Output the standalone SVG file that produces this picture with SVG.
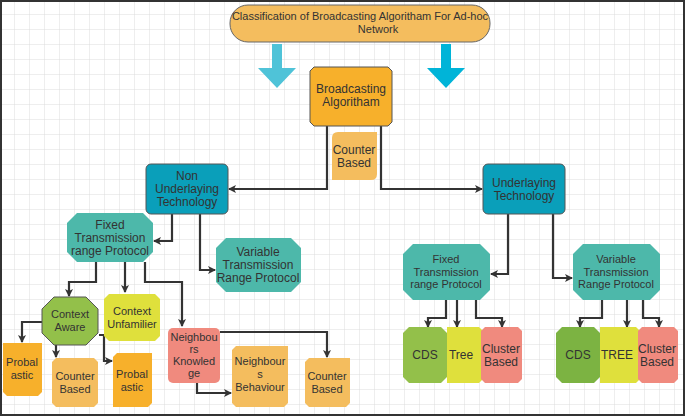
<svg xmlns="http://www.w3.org/2000/svg" width="685" height="416" viewBox="0 0 685 416">
<defs>
<pattern id="g" width="15" height="15" patternUnits="userSpaceOnUse"><path d="M15 0V15H0" fill="none" stroke="#dcdcdc" stroke-width="1"/></pattern>
<marker id="a" markerWidth="8" markerHeight="8" refX="7" refY="4" orient="auto" markerUnits="userSpaceOnUse"><path d="M0,0 L8,4 L0,8 L2,4z" fill="#333"/></marker>
<style>
text{font-family:"Liberation Sans",Arial,sans-serif;font-size:11px;fill:#333;text-anchor:middle}
.c path{fill:none;stroke:#333;stroke-width:2.2;marker-end:url(#a)}
.s{stroke:#555;stroke-width:0.6}
.big{font-size:12px}
</style>
</defs>
<rect width="685" height="416" fill="#fff"/>
<rect width="685" height="416" fill="url(#g)"/>
<rect x="1" y="1" width="683" height="414" fill="none" stroke="#333" stroke-width="2"/>
<g id="title"><rect x="230" y="5" width="260" height="37" rx="18" fill="#f4bd5e" stroke="#666"/><text x="360" y="20">Classification of Broadcasting Algoritham For Ad-hoc</text><text x="378" y="33">Network</text></g>
<g id="bluearrows"><path d="M272 44h10v24h14l-19 20l-19-20h14z" fill="#4fc3d8"/><path d="M441 44h10v24h14l-19 20l-19-20h14z" fill="#00b4d8"/></g>
<g class="c" id="connectors">
<path d="M327 126V189H229"/><path d="M381 126V189H482"/>
<path d="M172 214V241H154"/><path d="M200 214V270H215"/>
<path d="M96 262V282H69V296"/><path d="M125 262V292"/><path d="M145 262V282H182V326"/>
<path d="M42 322H22V342"/><path d="M56 345V357"/><path d="M99 335H104V361H112"/>
<path d="M197 383V393H231"/><path d="M220 332H327V357"/>
<path d="M508 214V274H491"/><path d="M553 214V278H572"/>
<path d="M446 300V318H428V327"/><path d="M457 300V327"/><path d="M476 300V318H502V327"/>
<path d="M602 300V318H580V327"/><path d="M627 300V327"/><path d="M643 300V318H659V327"/>
</g>
<g id="broadcasting"><path d="M314 67H388l4 4V122l-4 4H314l-4-4V71z" fill="#f7b02b" stroke="#555"/><text x="351" y="93" class="big">Broadcasting</text><text x="351" y="106" class="big">Algoritham</text></g>
<g id="counter0"><path d="M338 132H377V174q0 6-6 6H332V138q0-6 6-6z" fill="#f4bd5e"/><text x="354" y="154" class="big">Counter</text><text x="354" y="167" class="big">Based</text></g>
<g id="nonunder"><rect x="146" y="164" width="82" height="50" rx="5" fill="#0a9fba" stroke="#555"/><text x="187" y="180" class="big">Non</text><text x="187" y="193" class="big">Underlaying</text><text x="187" y="206" class="big">Technology</text></g>
<g id="under"><rect x="483" y="164" width="82" height="50" rx="5" fill="#0a9fba" stroke="#555"/><text x="524" y="187" class="big">Underlaying</text><text x="524" y="200" class="big">Technology</text></g>
<g id="ftp1"><path d="M77 213H143l10 10V252l-10 10H77l-10-10V223z" fill="#4db8aa"/><text x="110" y="229" class="big">Fixed</text><text x="110" y="242" class="big">Transmission</text><text x="110" y="255" class="big">range  Protocol</text></g>
<g id="vtp1"><path d="M226 238H291l10 10V282l-10 10H226l-10-10V248z" fill="#4db8aa"/><text x="258" y="256" class="big">Variable</text><text x="258" y="269" class="big">Transmission</text><text x="258" y="282" class="big">Range Protocol</text></g>
<g id="ca"><path d="M54 297H86l12 12V333l-12 12H54l-12-12V309z" fill="#93c04a" stroke="#555"/><text x="70" y="318">Context</text><text x="70" y="331">Aware</text></g>
<g id="cu"><path d="M109 294H155l5 5V336l-5 5H109l-5-5V299z" fill="#dfe03c"/><text x="132" y="315">Context</text><text x="132" y="328">Unfamilier</text></g>
<g id="nk"><rect x="168" y="328" width="52" height="55" rx="5" fill="#f08a7e"/><text x="194" y="341">Neighbou</text><text x="194" y="353">rs</text><text x="194" y="365">Knowled</text><text x="194" y="377">ge</text></g>
<g id="p1"><path d="M3 343H42V392l-4 4H7l-4-4z" fill="#f7b02b"/><text x="22" y="366">Probal</text><text x="22" y="379">astic</text></g>
<g id="cb1"><path d="M56 358H94l4 4V403l-4 4H56l-4-4V362z" fill="#f4bd5e"/><text x="75" y="380">Counter</text><text x="75" y="393">Based</text></g>
<g id="p2"><path d="M117 353H152V403l-4 4H113V357z" fill="#f7b02b"/><text x="132" y="378">Probal</text><text x="132" y="391">astic</text></g>
<g id="nb"><path d="M236 346H288V403l-4 4H236l-4-4V350z" fill="#f4bd5e"/><text x="260" y="365">Neighbour</text><text x="260" y="378">s</text><text x="260" y="391">Behaviour</text></g>
<g id="cb2"><path d="M309 358H350V403l-4 4H309l-4-4V362z" fill="#f4bd5e"/><text x="327" y="380">Counter</text><text x="327" y="393">Based</text></g>
<g id="ftp2"><path d="M413 244H480l10 10V290l-10 10H413l-10-10V254z" fill="#4db8aa"/><text x="446" y="263">Fixed</text><text x="446" y="276">Transmission</text><text x="446" y="288">range  Protocol</text></g>
<g id="vtp2"><path d="M583 244H650l10 10V290l-10 10H583l-10-10V254z" fill="#4db8aa"/><text x="616" y="263">Variable</text><text x="616" y="276">Transmission</text><text x="616" y="288">Range Protocol</text></g>
<g id="cds1"><path d="M409 327H441l6 6V377l-6 6H409l-6-6V333z" fill="#93c04a"/><text x="425" y="359" class="big">CDS</text></g>
<g id="tree1"><path d="M447 327H479l4 4V379l-4 4H447z" fill="#dfe03c"/><text x="461" y="359" class="big">Tree</text></g>
<g id="cl1"><path d="M485 327H518l4 4V379l-4 4H485l-4-4V331z" fill="#f08a7e"/><text x="501" y="353" class="big">Cluster</text><text x="501" y="366" class="big">Based</text></g>
<g id="cds2"><path d="M562 327H594l6 6V377l-6 6H562l-6-6V333z" fill="#7cb342"/><text x="578" y="359" class="big">CDS</text></g>
<g id="tree2"><path d="M600 327H636l4 4V379l-4 4H600z" fill="#dfe03c"/><text x="617" y="359" class="big">TREE</text></g>
<g id="cl2"><path d="M642 327H674l4 4V379l-4 4H642l-4-4V331z" fill="#f08a7e"/><text x="657" y="353" class="big">Cluster</text><text x="657" y="366" class="big">Based</text></g>
</svg>
